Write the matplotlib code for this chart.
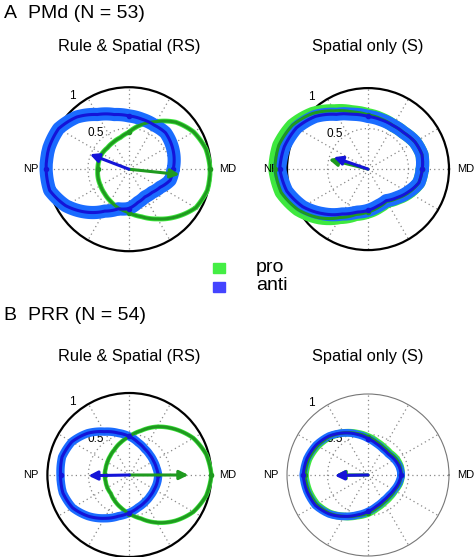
import numpy as np
import matplotlib.pyplot as plt
from matplotlib.patches import Rectangle

plt.rcParams['font.family'] = ['Liberation Sans', 'DejaVu Sans']

# directions of the sampled tuning curves (deg), 0 = MD, 180 = NP
angles = np.arange(0, 360, 15)

# normalised tuning curves (24 values, every 15 deg)
pmd_rs_pro = [0.99, 0.97, 0.91, 0.81, 0.67, 0.56, 0.45, 0.40, 0.38, 0.37, 0.38, 0.38,
              0.38, 0.39, 0.40, 0.42, 0.45, 0.49, 0.53, 0.60, 0.70, 0.82, 0.94, 0.99]
pmd_rs_anti = [0.54, 0.57, 0.60, 0.63, 0.62, 0.63, 0.65, 0.69, 0.77, 0.90, 0.99, 1.01,
               1.01, 1.00, 0.89, 0.74, 0.59, 0.50, 0.48, 0.42, 0.39, 0.40, 0.44, 0.52]
pmd_s_pro = [0.67, 0.69, 0.67, 0.63, 0.62, 0.64, 0.67, 0.73, 0.83, 0.97, 1.08, 1.14,
             1.15, 1.11, 1.00, 0.85, 0.69, 0.58, 0.53, 0.49, 0.46, 0.51, 0.58, 0.65]
pmd_s_anti = [0.67, 0.69, 0.67, 0.63, 0.62, 0.63, 0.65, 0.70, 0.78, 0.92, 1.02, 1.07,
              1.09, 1.04, 0.93, 0.78, 0.64, 0.55, 0.51, 0.47, 0.45, 0.50, 0.57, 0.65]
prr_rs_pro = [1.00, 0.97, 0.90, 0.79, 0.68, 0.56, 0.47, 0.41, 0.36, 0.33, 0.31, 0.30,
              0.30, 0.30, 0.31, 0.32, 0.36, 0.41, 0.47, 0.55, 0.67, 0.79, 0.90, 0.97]
prr_rs_anti = [0.35, 0.34, 0.34, 0.35, 0.37, 0.41, 0.47, 0.53, 0.61, 0.72, 0.81, 0.85,
               0.84, 0.84, 0.80, 0.71, 0.61, 0.52, 0.46, 0.41, 0.38, 0.36, 0.35, 0.35]
prr_s_pro = [0.41, 0.41, 0.40, 0.38, 0.39, 0.42, 0.47, 0.53, 0.60, 0.67, 0.72, 0.76,
             0.78, 0.76, 0.73, 0.67, 0.59, 0.52, 0.47, 0.42, 0.39, 0.38, 0.38, 0.40]
prr_s_anti = [0.41, 0.40, 0.38, 0.36, 0.37, 0.40, 0.45, 0.52, 0.60, 0.68, 0.74, 0.78,
              0.80, 0.78, 0.75, 0.68, 0.59, 0.51, 0.45, 0.40, 0.37, 0.36, 0.37, 0.39]

# population vectors: (angle deg, length) for pro and anti
pmd_rs_vec = [(-6, 0.62), (159, 0.51)]
pmd_s_vec = [(166, 0.50), (161, 0.45)]
prr_rs_vec = [(0, 0.72), (181, 0.50)]
prr_s_vec = [(180, 0.40), (181, 0.41)]

green_band = '#3ee83e'
green_line = '#1f9a1f'
blue_band = '#1a6cff'
blue_line = '#1414d8'


def closed(vals):
    th = np.deg2rad(np.append(angles, 360))
    return th, np.append(vals, vals[0])


def curve(ax, th, r, col, lw, z):
    ln, = ax.plot(th, r, color=col, lw=lw, solid_joinstyle='round',
                  solid_capstyle='round', clip_on=False, zorder=z)
    # draw each segment as a polar arc instead of a straight chord
    ln.get_path()._interpolation_steps = 12
    return ln


def polar_panel(rect, pro, anti, vecs, bands, circle_col='k', circle_lw=1.6):
    ax = fig.add_axes(rect, projection='polar')
    ax.set_rlim(0, 1)
    ax.set_xticks(np.deg2rad(np.arange(0, 360, 30)))
    ax.set_xticklabels([])
    ax.set_yticks([0.5])
    ax.set_yticklabels([])
    ax.grid(True, color='#888888', linestyle=(0, (1, 2.5)), lw=0.9)
    ax.spines['polar'].set_color(circle_col)
    ax.spines['polar'].set_linewidth(circle_lw)

    th, rp = closed(pro)
    _, ra = closed(anti)
    curve(ax, th, rp, green_band, bands[0], 3)
    curve(ax, th, ra, blue_band, bands[1], 4)
    curve(ax, th, rp, green_line, 2.2, 5)
    curve(ax, th, ra, blue_line, 2.2, 6)
    ax.plot(th[:-1:6], rp[:-1:6], 'o', color=green_line, ms=3, clip_on=False, zorder=5)
    ax.plot(th[:-1:6], ra[:-1:6], 'o', color=blue_line, ms=3, clip_on=False, zorder=6)

    for (ang, ln), col, z in zip(vecs, [green_line, blue_line], [7, 8]):
        ax.annotate('', xy=(np.deg2rad(ang), ln), xytext=(0, 0),
                    arrowprops=dict(arrowstyle='-|>', color=col, lw=2.2,
                                    mutation_scale=13, shrinkA=0, shrinkB=0),
                    zorder=z)

    ax.text(np.pi, 1.2, 'NP', ha='center', va='center', fontsize=8)
    ax.text(0, 1.2, 'MD', ha='center', va='center', fontsize=8)
    ax.text(np.deg2rad(128), 1.13, '1', ha='center', va='center', fontsize=8.5)
    ax.text(np.deg2rad(133), 0.6, '0.5', ha='center', va='center', fontsize=8.5)
    return ax


fig = plt.figure(figsize=(4.74, 5.57), dpi=100)

w1, h1 = 164 / 474, 164 / 557
w2, h2 = 162 / 474, 162 / 557
polar_panel([0.099, 0.549, w1, h1], pmd_rs_pro, pmd_rs_anti, pmd_rs_vec, (3.5, 9.5))
polar_panel([0.6055, 0.551, w2, h2], pmd_s_pro, pmd_s_anti, pmd_s_vec, (9.5, 9.5))
polar_panel([0.100, 0.0, w1, h1], prr_rs_pro, prr_rs_anti, prr_rs_vec, (3.2, 6))
polar_panel([0.6055, 0.0018, w2, h2], prr_s_pro, prr_s_anti, prr_s_vec, (5.5, 5.5),
            circle_col='#777777', circle_lw=0.8)

# panel headings
fig.text(0.008, 1 - 14 / 557, 'A', fontsize=14, va='center')
fig.text(0.059, 1 - 14 / 557, 'PMd (N = 53)', fontsize=14, va='center')
fig.text(0.008, 1 - 316 / 557, 'B', fontsize=14, va='center')
fig.text(0.059, 1 - 316 / 557, 'PRR (N = 54)', fontsize=14, va='center')

fig.text(129 / 474, 1 - 47 / 557, 'Rule & Spatial (RS)', fontsize=11.8, ha='center', va='center')
fig.text(368 / 474, 1 - 47 / 557, 'Spatial only (S)', fontsize=11.8, ha='center', va='center')
fig.text(129 / 474, 1 - 356 / 557, 'Rule & Spatial (RS)', fontsize=11.8, ha='center', va='center')
fig.text(368 / 474, 1 - 356 / 557, 'Spatial only (S)', fontsize=11.8, ha='center', va='center')

# legend
fig.add_artist(Rectangle((213 / 474, 1 - 273 / 557), 12 / 474, 10 / 557,
                         transform=fig.transFigure, color='#44ee44'))
fig.add_artist(Rectangle((213 / 474, 1 - 292 / 557), 12 / 474, 10 / 557,
                         transform=fig.transFigure, color='#4444ff'))
fig.text(256 / 474, 1 - 267 / 557, 'pro', fontsize=14, va='center')
fig.text(256 / 474, 1 - 286 / 557, 'anti', fontsize=14, va='center')

fig.savefig('out.png', dpi=100)
